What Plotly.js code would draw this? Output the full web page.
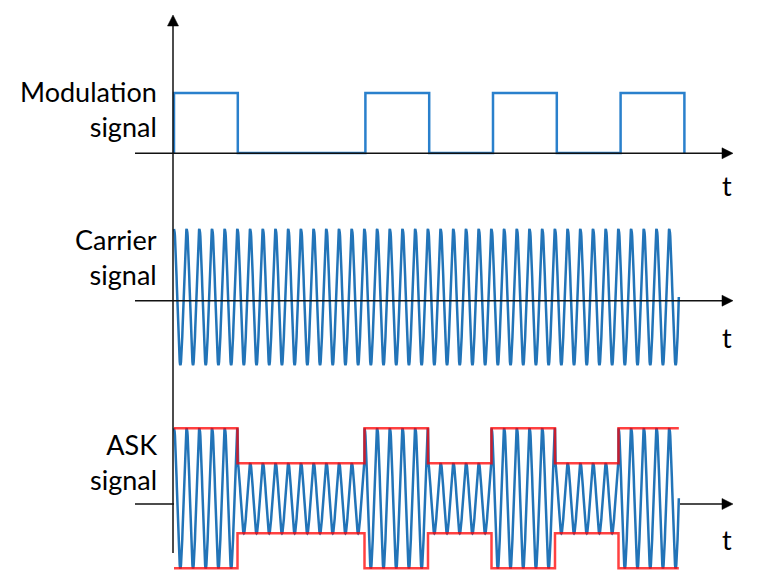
<!DOCTYPE html>
<html>
<head>
<meta charset="utf-8">
<script src="https://cdn.plot.ly/plotly-3.0.1.min.js"></script>
<style>html,body{margin:0;padding:0;background:#fff;}#chart{width:762px;height:587px;}</style>
</head>
<body>
<div id="chart"></div>
<script>
// ---- data ----
const bits = [1, 0, 0, 1, 0, 1, 0, 1];          // modulation bit sequence
const bitEdges = [0, 1, 2, 3, 4, 5, 6, 7, 8];    // bit boundaries (in bit periods)
const cyclesPerBit = [5];                        // carrier cycles per bit period
const askLevels = [0.5, 1];                      // ASK amplitude for bit 0 / bit 1
const signalEnd = [7.95];                        // carrier / ASK end time (bit periods)
const labels = ["Modulation<br>signal", "Carrier<br>signal", "ASK<br>signal"];
const axisLabel = ["t", "t", "t"];

// ---- build traces ----
const W = 762, H = 587;
const px = x => x / W, py = y => 1 - y / H;

// modulation (hv step)
const modX = [0], modY = [0];
bits.forEach((b, i) => { modX.push(bitEdges[i]); modY.push(b); });
modX.push(bitEdges[8]); modY.push(bits[7]);
modX.push(bitEdges[8]); modY.push(0);

// carrier and ASK sampled per bit
const f = cyclesPerBit[0], tEnd = signalEnd[0];
const nPerBit = 200;
const cX = [], cY = [], aX = [], aY = [];
for (let k = 0; k < bits.length; k++) {
  const amp = askLevels[bits[k]];
  for (let j = 0; j <= nPerBit; j++) {
    const t = bitEdges[k] + j / nPerBit;
    if (t > tEnd + 1e-9) break;
    const v = Math.cos(2 * Math.PI * f * t);
    cX.push(t); cY.push(v);
    aX.push(t); aY.push(amp * v);
  }
}
// envelope
const envX = bitEdges.slice(0, 8).concat([tEnd]);
const envUp = bits.map(b => askLevels[b]); envUp.push(askLevels[bits[7]]);
const envDn = envUp.map(v => -v);

const blue = "#2274b8";
const red = "rgba(255,0,0,0.75)";
const traces = [
  {x: modX, y: modY, xaxis: "x", yaxis: "y", mode: "lines", line: {color: "#2a80cc", width: 2.5, shape: "hv"}, hoverinfo: "skip"},
  {x: cX, y: cY, xaxis: "x2", yaxis: "y2", mode: "lines", line: {color: blue, width: 2.5}, hoverinfo: "skip"},
  {x: aX, y: aY, xaxis: "x2", yaxis: "y3", mode: "lines", line: {color: blue, width: 2.5}, hoverinfo: "skip"},
  {x: envX, y: envUp, xaxis: "x2", yaxis: "y3", mode: "lines", line: {color: red, width: 2.5, shape: "hv"}, hoverinfo: "skip"},
  {x: envX, y: envDn, xaxis: "x2", yaxis: "y3", mode: "lines", line: {color: red, width: 2.5, shape: "hv"}, hoverinfo: "skip"}
];

// axis scales (pixel per bit period, zero location)
const sMod = 63.8, sCar = 63.5, x0 = 174;
const hid = {visible: false, fixedrange: true, showgrid: false, zeroline: false};
const layout = {
  width: W, height: H,
  margin: {l: 0, r: 0, t: 0, b: 0},
  paper_bgcolor: "#fff", plot_bgcolor: "rgba(0,0,0,0)",
  showlegend: false,
  xaxis: Object.assign({range: [-x0 / sMod, (W - x0) / sMod], domain: [0, 1]}, hid),
  xaxis2: Object.assign({range: [-x0 / sCar, (W - x0) / sCar], overlaying: "x"}, hid),
  yaxis: Object.assign({range: [-(H - 153) / 60, 153 / 60], domain: [0, 1]}, hid),
  yaxis2: Object.assign({range: [-(H - 297) / 68, 297 / 68], overlaying: "y"}, hid),
  yaxis3: Object.assign({range: [-(H - 498.3) / 70, 498.3 / 70], overlaying: "y"}, hid),
  shapes: [],
  annotations: []
};

const axColor = "#111";
function hline(x1, x2, y) {
  layout.shapes.push({type: "line", xref: "paper", yref: "paper", x0: px(x1), x1: px(x2), y0: py(y), y1: py(y), line: {color: axColor, width: 1.5}, layer: "above"});
}
function rightArrow(y) {
  layout.shapes.push({type: "path", xref: "paper", yref: "paper",
    path: `M ${px(722)} ${py(y - 5.5)} L ${px(733)} ${py(y)} L ${px(722)} ${py(y + 5.5)} Z`,
    fillcolor: "#000", line: {color: "#000", width: 0.5}, layer: "above"});
}
// vertical axis
layout.shapes.push({type: "line", xref: "paper", yref: "paper", x0: px(173), x1: px(173), y0: py(24), y1: py(553), line: {color: axColor, width: 1.5}, layer: "above"});
layout.shapes.push({type: "path", xref: "paper", yref: "paper",
  path: `M ${px(167.5)} ${py(26)} L ${px(173)} ${py(15)} L ${px(178.5)} ${py(26)} Z`,
  fillcolor: "#000", line: {color: "#000", width: 0.5}, layer: "above"});
// horizontal axes
hline(135, 723, 153.3); rightArrow(153.3);
hline(135, 723, 300.7); rightArrow(300.7);
hline(135, 174, 504); hline(680, 723, 504); rightArrow(504);

// labels
const fnt = {family: "Lato, 'Open Sans', sans-serif", size: 27, color: "#000"};
const labelY = [109.5, 256.5, 461.5];
labels.forEach((t, i) => {
  layout.annotations.push({xref: "paper", yref: "paper", x: px(159), y: py(labelY[i]), text: t, showarrow: false, xanchor: "right", yanchor: "middle", align: "right", font: fnt});
});
const tY = [185, 337, 539];
axisLabel.forEach((t, i) => {
  layout.annotations.push({xref: "paper", yref: "paper", x: px(727), y: py(tY[i]), text: t, showarrow: false, xanchor: "center", yanchor: "middle", font: fnt});
});

Plotly.newPlot("chart", traces, layout, {displayModeBar: false, staticPlot: true});
</script>
</body>
</html>
